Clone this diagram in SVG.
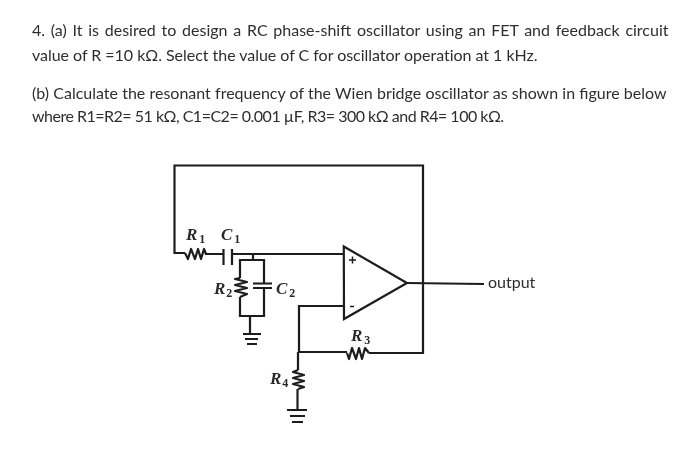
<svg xmlns="http://www.w3.org/2000/svg" width="700" height="452" viewBox="0 0 700 452">
<style>
.t{font-family:"Lato","Liberation Sans",sans-serif;font-size:16px;fill:#2e2e2e}
.m{font-family:"Liberation Serif",serif;font-style:italic;font-weight:bold;font-size:17px;fill:#2a2a2a}
.s{font-size:12px;font-style:normal}
.w{fill:none;stroke:#1c1c1c;stroke-width:2.2;stroke-linejoin:miter}
.r{fill:none;stroke:#1c1c1c;stroke-width:2.2;stroke-linejoin:round}
.p{fill:none;stroke:#1c1c1c;stroke-width:1.5}
</style>
<defs><filter id="soft" x="-5%" y="-5%" width="110%" height="110%"><feGaussianBlur stdDeviation="0.3"/></filter></defs>
<rect width="700" height="452" fill="#fff"/>
<g filter="url(#soft)">
<g id="question-text">
<text class="t" x="32" y="36" word-spacing="1.66">4. (a) It is desired to design a RC phase-shift oscillator using an FET and feedback circuit</text>
<text class="t" x="32" y="60.500" letter-spacing="-0.03">value of R =10 kΩ. Select the value of C for oscillator operation at 1 kHz.</text>
<text class="t" x="32" y="98.500" word-spacing="0.1">(b) Calculate the resonant frequency of the Wien bridge oscillator as shown in figure below</text>
<text class="t" x="32" y="122" letter-spacing="-0.5">where R1=R2= 51 kΩ, C1=C2= 0.001 µF, R3= 300 kΩ and R4= 100 kΩ.</text>
</g>
<g id="connectors">
<path class="w" d="M185 253H174.500V165.500H423V353H369"/>
<path class="w" d="M205 254H223.500M232 254H344"/>
<path class="w" d="M253 254V260"/>
<path class="w" d="M240 278V260H264V283.500M264 288V316H240V297"/>
<path class="w" d="M250 316V333"/>
<path class="w" d="M344 306H299V352"/>
<path class="w" d="M298 352H347"/>
<path class="w" d="M407 283L484 284"/>
<path class="w" d="M298 352V370M297.500 389V410"/>
</g>
<g id="R1"><path class="r" d="M185 253L188 259L191 249L195 259L198 249L201 259L204 249L206 254"/><text class="m" x="186" y="240">R<tspan class="s" dy="3" dx="2">1</tspan></text></g>
<g id="C1"><path class="w" d="M223.500 249V265M232 249V265"/><text class="m" x="221" y="240">C<tspan class="s" dy="3" dx="2">1</tspan></text></g>
<g id="R2"><path class="r" d="M240 278L235 279L247 282L235 285L247 288L235 291L247 294L240 297"/><text class="m" x="214" y="294">R<tspan class="s" dy="3" dx="1">2</tspan></text></g>
<g id="C2"><path class="w" d="M253 283.500H272M253 288H272"/><text class="m" x="276" y="294">C<tspan class="s" dy="3" dx="2">2</tspan></text></g>
<g id="ground-1"><path class="w" d="M243 334H261M245 339H258M247 344H257"/></g>
<g id="opamp"><path class="w" d="M343.800 246.500L407 283L344 319Z"/><path class="p" d="M349 260H356M352.500 256.500V263.500M350 306.500H354"/></g>
<g id="R3"><path class="r" d="M347 353L349 359L352 348L356 359L359 348L362 359L365 348L369 353"/><text class="m" x="351" y="341">R<tspan class="s" dy="3" dx="2">3</tspan></text></g>
<g id="R4"><path class="r" d="M298 370L293 372L304 375L293 378L304 381L293 384L304 387L298 389"/><text class="m" x="270" y="384">R<tspan class="s" dy="3" dx="1">4</tspan></text></g>
<g id="ground-2"><path class="w" d="M287 410H307M290 416H305M292 422H303"/></g>
<g id="output-label"><text class="t" x="488" y="288">output</text></g>
</g>
</svg>
